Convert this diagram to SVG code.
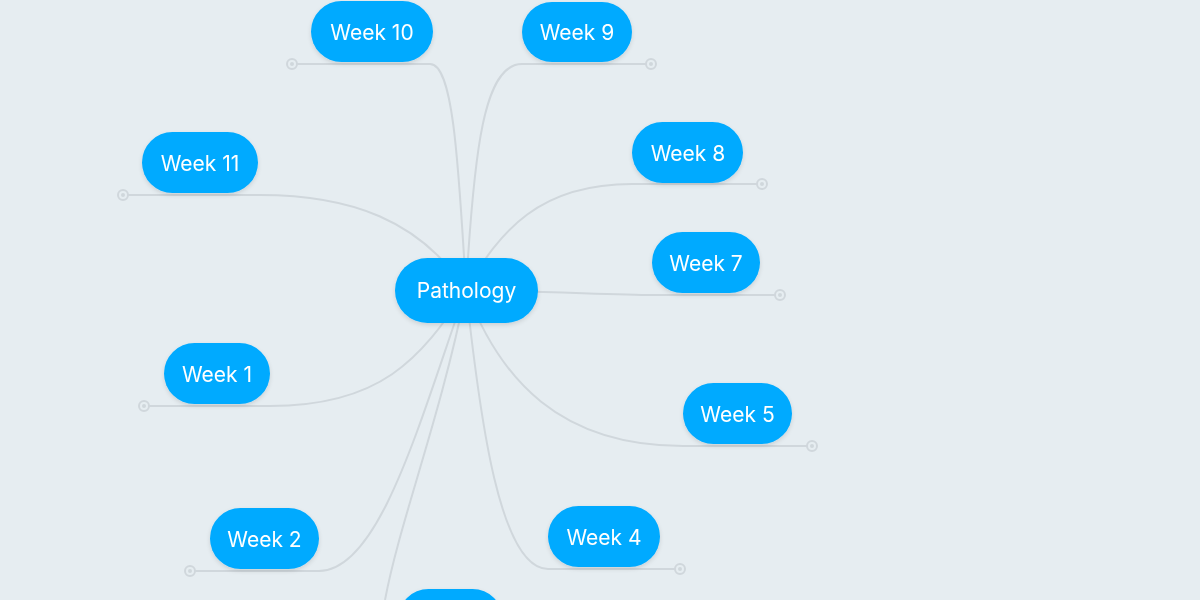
<svg xmlns="http://www.w3.org/2000/svg" width="1200" height="600" viewBox="0 0 1200 600">
<defs>
<style>
.n rect{fill:#00aaff}
.n text{fill:#fff;font-family:Inter,"Noto Sans",sans-serif;font-size:21px;text-anchor:middle;dominant-baseline:central}
.c path{fill:none;stroke:#d0d7dc;stroke-width:2}
.c circle{fill:#e6edf1;stroke:#d0d7dc;stroke-width:2}
.c circle.d{fill:#d0d7dc;stroke:none}
</style>
<filter id="sh" x="-20%" y="-20%" width="140%" height="150%"><feDropShadow dx="0" dy="2" stdDeviation="2" flood-color="#000" flood-opacity="0.12"/></filter>
</defs>
<rect width="1200" height="600" fill="#e6edf1"/>
<g class="c" id="connectors">
<path d="M466,290 C458,150 452,64 430,64 L292,64"/>
<path d="M466,290 C474,150 484,64 522,64 L651,64"/>
<path d="M466,290 C420,220 350,195 260,195 L123,195"/>
<path d="M466,290 C500,230 540,184 632,184 L762,184"/>
<path d="M466,290 C560,292 620,295 652,295 L780,295"/>
<path d="M466,290 C500,380 560,446 683,446 L812,446"/>
<path d="M466,290 C480,420 500,569 548,569 L680,569"/>
<path d="M466,290 C420,420 380,571 319,571 L190,571"/>
<path d="M466,290 C420,360 380,406 270,406 L144,406"/>
<path d="M466,290 C440,420 400,520 385,600"/>
<circle cx="292" cy="64" r="5"/><circle class="d" cx="292" cy="64" r="2"/>
<circle cx="651" cy="64" r="5"/><circle class="d" cx="651" cy="64" r="2"/>
<circle cx="123" cy="195" r="5"/><circle class="d" cx="123" cy="195" r="2"/>
<circle cx="762" cy="184" r="5"/><circle class="d" cx="762" cy="184" r="2"/>
<circle cx="780" cy="295" r="5"/><circle class="d" cx="780" cy="295" r="2"/>
<circle cx="812" cy="446" r="5"/><circle class="d" cx="812" cy="446" r="2"/>
<circle cx="680" cy="569" r="5"/><circle class="d" cx="680" cy="569" r="2"/>
<circle cx="190" cy="571" r="5"/><circle class="d" cx="190" cy="571" r="2"/>
<circle cx="144" cy="406" r="5"/><circle class="d" cx="144" cy="406" r="2"/>
</g>
<g class="n" id="pathology" filter="url(#sh)"><rect x="395" y="258" width="143" height="65" rx="32.5"/><text x="466.5" y="290.5">Pathology</text></g>
<g class="n" id="week10" filter="url(#sh)"><rect x="311" y="1" width="122" height="61" rx="30.5"/><text x="372" y="32">Week 10</text></g>
<g class="n" id="week9" filter="url(#sh)"><rect x="522" y="2" width="110" height="60" rx="30"/><text x="577" y="32">Week 9</text></g>
<g class="n" id="week11" filter="url(#sh)"><rect x="142" y="132" width="116" height="61" rx="30.5"/><text x="200" y="163">Week 11</text></g>
<g class="n" id="week8" filter="url(#sh)"><rect x="632" y="122" width="111" height="61" rx="30.5"/><text x="688" y="153">Week 8</text></g>
<g class="n" id="week7" filter="url(#sh)"><rect x="652" y="232" width="108" height="61" rx="30.5"/><text x="706" y="263">Week 7</text></g>
<g class="n" id="week5" filter="url(#sh)"><rect x="683" y="383" width="109" height="61" rx="30.5"/><text x="737.5" y="414">Week 5</text></g>
<g class="n" id="week4" filter="url(#sh)"><rect x="548" y="506" width="112" height="61" rx="30.5"/><text x="604" y="537">Week 4</text></g>
<g class="n" id="week2" filter="url(#sh)"><rect x="210" y="508" width="109" height="61" rx="30.5"/><text x="264.5" y="539">Week 2</text></g>
<g class="n" id="week1" filter="url(#sh)"><rect x="164" y="343" width="106" height="61" rx="30.5"/><text x="217" y="374">Week 1</text></g>
<g class="n" id="bottom" filter="url(#sh)"><rect x="398" y="589" width="105" height="61" rx="30.5"/></g>
</svg>
